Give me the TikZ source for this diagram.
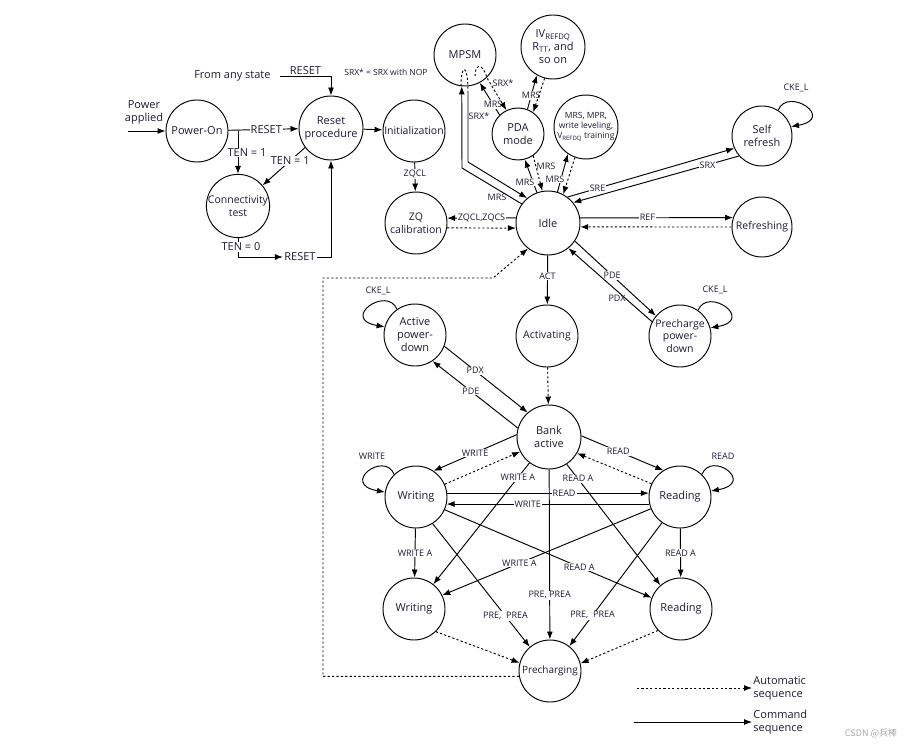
\documentclass[tikz,border=0pt]{standalone}
\usepackage{fontspec}
\setmainfont{Open Sans}
\newfontfamily\cjkfont{Noto Sans CJK SC}
\usetikzlibrary{arrows.meta}
\definecolor{txtc}{RGB}{28,28,48}
\begin{document}
\begin{tikzpicture}[x=1pt,y=-1pt,>={Latex[length=8pt,width=6pt]},line width=0.95pt,
  st/.style={circle,draw,inner sep=0pt,minimum size=62pt,align=center,text=txtc,font=\fontsize{11}{13}\selectfont},
  tx/.style={text=txtc,align=center,inner sep=1pt,font=\fontsize{11}{13}\selectfont},
  tl/.style={tx,fill=white},
  lb/.style={text=txtc,inner sep=1pt,font=\fontsize{9}{10.5}\selectfont},
  wl/.style={lb,fill=white},
  autoseq/.style={dash pattern=on 2.2pt off 2.2pt}]
\useasboundingbox (0,0) rectangle (921,749);
\node[st] (pwron) at (197,131) {Power-On};
\node[st,minimum size=64pt] (reset) at (331,128) {Reset\\procedure};
\node[st,font=\fontsize{10.5}{12.5}\selectfont] (init) at (414,131) {Initialization};
\node[st,font=\fontsize{10.5}{12.5}\selectfont] (conn) at (238,206) {Connectivity\\test};
\node[st,font=\fontsize{10.5}{12.5}\selectfont] (zq) at (416,223) {ZQ\\calibration};
\node[st] (mpsm) at (465,55) {MPSM};
\node[st,minimum size=64pt] (ivref) at (553,47) {IV\textsubscript{REFDQ}\\R\textsubscript{TT}, and\\so on};
\node[st,minimum size=52pt] (pda) at (518,134) {PDA\\mode};
\node[st,font=\fontsize{8.5}{10}\selectfont] (mrsmpr) at (586,127) {MRS, MPR,\\write leveling,\\V\textsubscript{REFDQ} training};
\node[st,minimum size=60pt] (selfref) at (762,136) {Self\\refresh};
\node[st,minimum size=64pt] (idle) at (548,223) {Idle};
\node[st,minimum size=60pt,font=\fontsize{10.5}{12.5}\selectfont] (refr) at (762,227) {Refreshing};
\node[st] (apd) at (415,335) {Active\\power-\\down};
\node[st,font=\fontsize{10.5}{12.5}\selectfont] (actg) at (547,336) {Activating};
\node[st,font=\fontsize{10.5}{12.5}\selectfont] (ppd) at (680,336) {Precharge\\power-\\down};
\node[st,minimum size=64pt] (bank) at (549,437) {Bank\\active};
\node[st] (wr) at (416,497) {Writing};
\node[st] (rd) at (680,497) {Reading};
\node[st] (wra) at (414,609) {Writing};
\node[st] (rda) at (681,609) {Reading};
\node[st,font=\fontsize{10}{12}\selectfont] (prech) at (550,671) {Precharging};

\node[tx] (pwrtxt) at (144,112) {Power\\applied};
\coordinate (pwrin) at (128,131);
\draw[->] (pwrin) -- (pwron);
\draw[->] (pwron) -- node[tl,pos=0.54] (lrst1) {RESET} (reset);
\draw[->] (pwron.east -| conn.north) -- node[tl,xshift=9pt] (lten1) {TEN = 1} (conn.north);
\draw[->] (reset.217) -- node[tl,pos=0.35] (lten2) {TEN = 1} (conn.40);
\node[tx] (rst2) at (300,257) {RESET};
\draw[->] (conn) |- (rst2);
\node[tl] (lten0) at (241,247) {TEN = 0};
\draw[->] (rst2) -| (reset);
\node[tx,anchor=east] (anyst) at (272,76) {From any state};
\draw[->] ([xshift=8pt]anyst.east) -| node[tx,pos=0.25,above] (lrst0) {RESET} (reset);
\node[lb,font=\fontsize{8.5}{10}\selectfont] (srxnote) at (386,72) {SRX* = SRX with NOP};
\draw[->] (reset) -- (init);
\draw[->] (init) -- node[wl,pos=0.4] (lzqcl) {ZQCL} (zq);
\draw[->] (idle.171) -- node[wl] (lzqcs) {ZQCL,ZQCS} (zq.9);
\draw[->,autoseq] (zq.-9) -- (idle.189);

\draw[->] (idle.144) -- (462,168) -- (mpsm.-96);
\coordinate (mpb) at (468,92);
\draw[autoseq] (461,86) .. controls (461,63) and (468,63) .. (mpb);
\draw[->] (mpb) -- (468,162) -- (idle.130);
\node[lb] (lsrxa) at (479,116) {SRX*};
\node[lb] (lmrsa) at (497,197) {MRS};
\draw[->] (pda.134) -- node[wl,pos=0.33] (lmrsb) {MRS} (mpsm.-62);
\draw[->,autoseq] (475,76) .. controls (475,63) and (483,63) .. (487,78) -- (pda.116);
\node[lb] (lsrxb) at (503,83) {SRX*};
\draw[->] (pda.69) -- node[wl,pos=0.4] (lmrsc) {MRS} (ivref.-120);
\draw[->,autoseq] (ivref.-105) -- (pda.55);
\draw[->] (idle.110) -- (pda.-75);
\node[wl] (lmrsd) at (525,182) {MRS};
\draw[->,autoseq] (pda.-55) -- (idle.100);
\node[lb] (lmrse) at (546,166) {MRS};
\draw[->] (idle.73) -- (mrsmpr.-124);
\draw[->,autoseq] (mrsmpr.-110) -- (idle.62);
\node[wl] (lmrsf) at (555,179) {MRS};

\draw[->] (idle.53) -- node[wl,pos=0.18] (lsre) {SRE} (selfref.204);
\draw[->] (selfref.221) -- node[wl,pos=0.19] (lsrx) {SRX} (idle.39);
\draw[->] (selfref.58) .. controls +(10,-24) and +(45,-8) .. (selfref.18);
\node[lb] (lckea) at (796,88) {CKE\_L};
\draw[->] (idle.9) -- node[wl,pos=0.44] (lref) {REF} (refr.162);
\draw[->,autoseq] (refr) -- (idle.-7);
\draw[->] (idle) -- node[wl,pos=0.42] (lact) {ACT} (actg);
\draw[->,autoseq] (actg) -- (bank);
\draw[->] (idle.-34) -- node[wl,pos=0.46] (lpde) {PDE} (ppd.140);
\draw[->] (ppd.153) -- (idle.-51);
\node[lb] (lpdx) at (617,298) {PDX};
\draw[->] (ppd.55) .. controls +(10,-24) and +(45,-8) .. (ppd.15);
\node[lb] (lckeb) at (715,290) {CKE\_L};
\draw[->] (apd.125) .. controls +(-10,-24) and +(-45,-8) .. (apd.165);
\node[lb] (lckec) at (378,291) {CKE\_L};
\draw[->] (apd.-21) -- node[wl,pos=0.37] (lpdxb) {PDX} (bank.131);
\draw[->] (bank.164) -- node[wl,pos=0.55] (lpdeb) {PDE} (apd.-56);
\coordinate (dl) at (323,278);
\draw[->,autoseq] (prech.190) -| (dl) -- ++(170,0) -- (idle.-128);

\draw[->] (bank.176) -- node[wl] (lwr) {WRITE} (wr.56);
\draw[->,autoseq] (wr.24) -- (bank.207);
\draw[->] (bank.2) -- node[wl,pos=0.45] (lrd) {READ} (rd.122);
\draw[->,autoseq] (rd.155) -- (bank.-30);
\draw[->] (wr.134) .. controls +(-10,-24) and +(-45,-8) .. (wr.171);
\node[lb] (lwrl) at (372,456) {WRITE};
\draw[->] (rd.46) .. controls +(10,-24) and +(45,-8) .. (rd.11);
\node[lb] (lrdl) at (723,456) {READ};
\draw[->] (wr.7) -- node[wl,pos=0.58] (lrdh) {READ} (rd.173);
\draw[->] (rd.-167) -- node[wl,pos=0.6] (lwrh) {WRITE} (wr.-13);
\draw[->] (wr) -- node[wl] (lwra) {WRITE A} (wra);
\draw[->] (rd) -- node[wl] (lrda) {READ A} (rda);
\draw[->] (bank.-127) -- node[wl,pos=0.12] (lwrb) {WRITE A} (wra.52);
\draw[->] (bank.-57) -- node[wl,pos=0.12] (lrdb) {READ A} (rda.131);
\draw[->] (rd.202) -- node[wl,pos=0.63] (lwrc) {WRITE A} (wra.26);
\draw[->] (wr.-24) -- node[wl,pos=0.65] (lrdc) {READ A} (rda.159);
\draw[->] (bank) -- node[wl,pos=0.74] (lpre) {PRE, PREA} (prech);
\draw[->] (wr.-58) -- node[wl,pos=0.75] (lprea) {PRE,~~PREA} (prech.130);
\draw[->] (rd.-125) -- node[wl,pos=0.75] (lpreb) {PRE,~~PREA} (prech.52);
\draw[->,autoseq] (wra.-46) -- (prech.165);
\draw[->,autoseq] (rda.-137) -- (prech.14);

\node[tx,anchor=west,align=left] (lgauto) at (752,688) {Automatic\\sequence};
\node[tx,anchor=west,align=left] (lgcmd) at (752,722) {Command\\sequence};
\coordinate (lga) at (637,688);
\coordinate (lgc) at (634,722);
\draw[->,autoseq] (lga) -- (lgauto.west);
\draw[->] (lgc) -- (lgcmd.west);
\node[text=gray!70,font=\cjkfont\fontsize{9}{10}\selectfont] (wm) at (871,733) {CSDN @兵棒};
\end{tikzpicture}
\end{document}
